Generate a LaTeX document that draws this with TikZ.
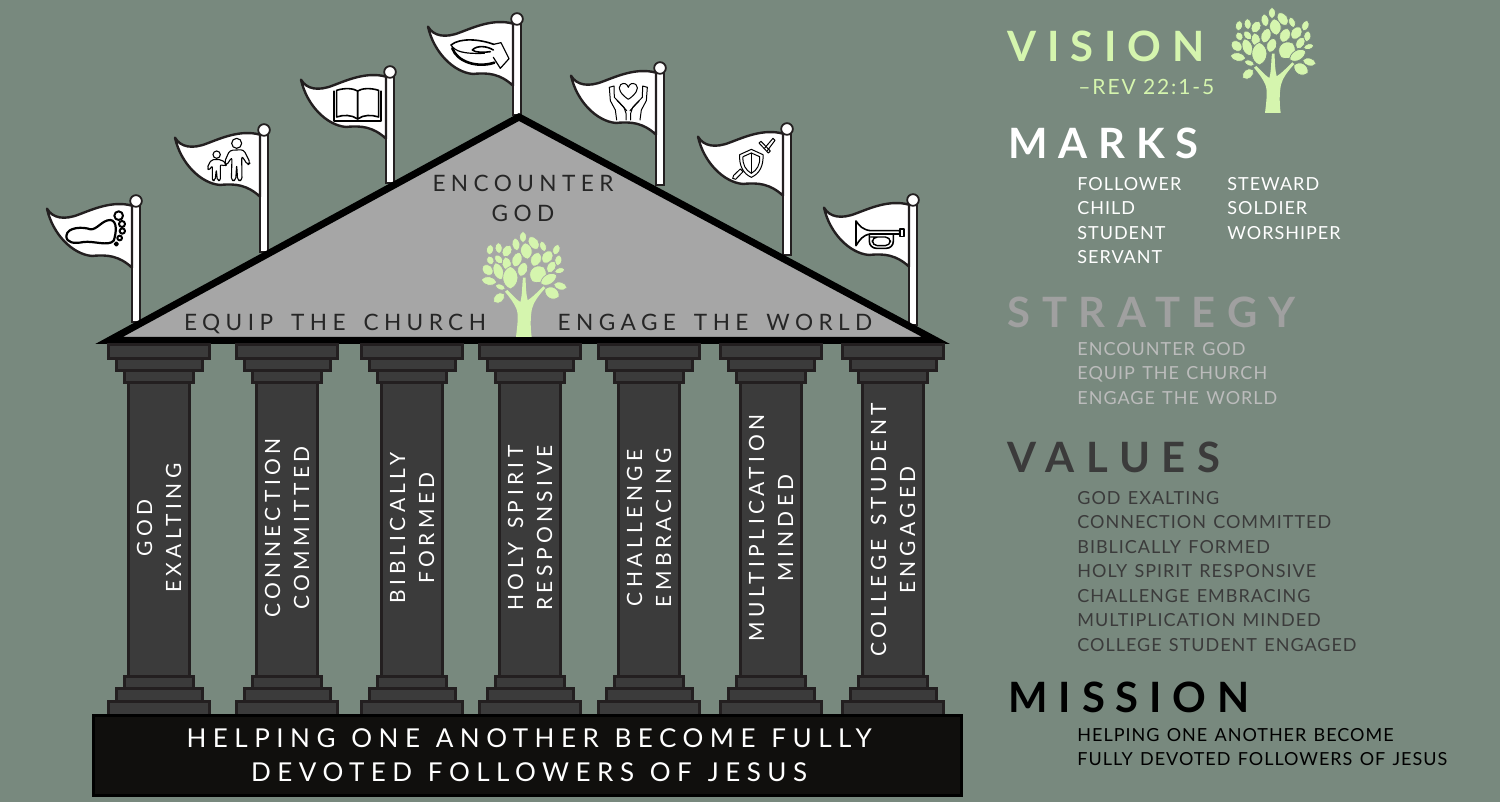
\documentclass[tikz,border=0pt]{standalone}
\usepackage{fontspec}
\setmainfont{Lato}
\newfontfamily\wideletters[LetterSpace=25,WordSpace=1.2]{Lato}
\newfontfamily\roofletters[LetterSpace=24,WordSpace=1.6]{Lato}
\newfontfamily\colletters[LetterSpace=21,WordSpace=1.4]{Lato}
\newfontfamily\headwide[LetterSpace=28]{Lato Bold}
\newfontfamily\headbold[LetterSpace=26]{Lato Bold}
\newfontfamily\listletters[LetterSpace=5.5,WordSpace=1.3]{Lato}
\newfontfamily\revletters[LetterSpace=9]{Lato}
\definecolor{bgsage}{RGB}{120,137,126}
\definecolor{treegreen}{RGB}{213,245,174}
\definecolor{roofgray}{RGB}{166,166,166}
\definecolor{stonedark}{RGB}{35,31,32}
\definecolor{stonefill}{RGB}{59,59,59}
\definecolor{plinthblack}{RGB}{16,15,13}
\definecolor{stratgray}{RGB}{160,160,160}
\definecolor{stratlist}{RGB}{188,188,188}
\tikzset{
    iconline/.style={draw=black, line width=#1, fill=none, line join=round, line cap=round},
    iconline/.default=0.5pt,
    flag/.pic={
        \begin{scope}[scale=1/3]
        \draw[stonedark, fill=white, line width=1.1pt] (-11,0) rectangle (11,#1);
        \draw[stonedark, fill=white, line width=1.2pt, line join=round] (-267,23) .. controls (-250,52) and (-215,58) .. (-170,40) .. controls (-130,25) and (-70,-2) .. (-12,14) -- (-12,200) .. controls (-50,165) and (-85,160) .. (-132,165) .. controls (-190,160) and (-250,100) .. (-267,23) -- cycle;
        \draw[stonedark, fill=white, line width=.9pt] (0,0) circle (17.5);
        \end{scope}
    },
    column/.pic={
        \draw[tierbox] (-34.5,371) rectangle (34.5,383);
        \draw[tierbox] (-43,359) rectangle (43,371);
        \draw[tierbox] (-50.5,345) rectangle (50.5,359);
        \draw[tierbox] (-30.5,383) rectangle (30.5,676);
        \draw[tierbox] (-34.5,676) rectangle (34.5,688);
        \draw[tierbox] (-43,688) rectangle (43,701);
        \draw[tierbox] (-50.5,701) rectangle (50.5,715);
    },
    tree/.pic={
        \begin{scope}[scale=1/3, shift={(-158,-350)}]
        \foreach \lx/\ly/\ll/\lw/\la in {158/50/34/20/90, 137/72/40/22/100, 190/68/44/28/125, 218/78/34/18/110,
            168/92/50/32/100, 110/92/40/26/60, 85/83/34/20/95, 59/88/32/20/80, 258/88/34/20/70,
            197/117/44/30/65, 231/110/42/30/55, 140/118/46/28/70, 109/130/42/26/100, 85/117/32/20/130,
            60/120/28/20/115, 264/120/34/20/80, 157/147/44/28/70, 84/153/54/28/110, 52/149/38/28/135,
            120/172/68/42/90, 203/162/56/46/50, 243/140/40/24/60, 235/177/54/28/30, 268/151/32/16/15,
            56/182/48/24/-10, 270/197/42/22/-15, 245/218/48/32/-30, 90/200/32/16/-20, 86/233/40/26/40}{
            \filldraw[fill=treegreen, draw=#1, line width=.35pt, shift={(\lx,\ly)}, rotate=\la] (-\ll/2,0) .. controls (-\ll/3,\lw*.72) and (\ll/3,\lw*.72) .. (\ll/2,0) .. controls (\ll/3,-\lw*.72) and (-\ll/3,-\lw*.72) .. (-\ll/2,0) -- cycle;
        }
        \fill[treegreen] (137,350) .. controls (142,310) and (145,280) .. (138,265) .. controls (130,245) and (115,228) .. (104,214) -- (111,209) .. controls (125,222) and (140,240) .. (150,245) .. controls (156,225) and (155,195) .. (158,172) -- (166,172) .. controls (166,200) and (168,225) .. (172,240) .. controls (185,232) and (205,212) .. (219,198) -- (225,203) .. controls (205,225) and (190,245) .. (185,265) .. controls (180,290) and (180,320) .. (184,350) -- cycle;
        \end{scope}
    },
    footicon/.pic={
        \begin{scope}[scale=1/3, shift={(-317,-603)}]
        \draw[iconline=1.1pt] (108,708) .. controls (110,680) and (160,680) .. (180,688) .. controls (200,690) and (215,660) .. (240,660) .. controls (262,662) and (258,700) .. (250,722) .. controls (235,740) and (190,722) .. (160,726) .. controls (130,732) and (108,728) .. (108,708) -- cycle;
        \draw[iconline=1pt] (265,647) circle (13);
        \draw[iconline=1pt] (275,672) circle (9);
        \draw[iconline=1pt] (276,693) circle (8);
        \draw[iconline=1pt] (268,714) circle (7);
        \draw[iconline=1pt] (258,732) circle (5);
        \end{scope}
    },
    familyicon/.pic={
        \begin{scope}[scale=1/3, shift={(-703,-391)}]
        \draw[iconline=.55pt] (621,431) circle (15);
        \draw[iconline=.55pt, rounded corners=1.5pt] (584,488) -- (600,452) -- (642,450) -- (662,490) -- (654,496) -- (636,468) -- (637,543) -- (624,543) -- (621,495) -- (618,543) -- (605,543) -- (607,472) -- (590,498) -- cycle;
        \draw[iconline=.55pt] (561,465) circle (11);
        \draw[iconline=.55pt, rounded corners=1pt] (532,505) -- (545,480) -- (575,480) -- (592,494) -- (586,500) -- (572,494) -- (572,543) -- (563,543) -- (560,510) -- (556,543) -- (548,543) -- (548,498) -- (538,512) -- cycle;
        \end{scope}
    },
    bookicon/.pic={
        \begin{scope}[scale=1/3, shift={(-1080,-217)}]
        \draw[iconline=1.1pt] (912,275) -- (912,363) -- (1054,363) -- (1054,275);
        \draw[iconline=.8pt] (920,272) .. controls (945,264) and (970,266) .. (983,274) -- (983,358) .. controls (965,345) and (940,345) .. (920,352) -- cycle;
        \draw[iconline=.8pt] (1046,272) .. controls (1020,264) and (995,266) .. (983,274) -- (983,358) .. controls (1000,345) and (1025,345) .. (1046,352) -- cycle;
        \end{scope}
    },
    bowlicon/.pic={
        \begin{scope}[scale=1/3, shift={(-1460,-57)}]
        \draw[iconline=1.3pt] (1266,145) .. controls (1280,185) and (1340,205) .. (1392,188);
        \draw[iconline=.8pt] (1262,135) .. controls (1290,112) and (1350,118) .. (1390,133);
        \draw[iconline=.6pt] (1262,135) .. controls (1275,155) and (1300,162) .. (1362,160);
        \draw[iconline=.6pt] (1390,133) -- (1412,128) -- (1436,176) -- (1410,205) -- (1389,172);
        \draw[iconline=.8pt] (1389,150) .. controls (1370,138) and (1340,135) .. (1326,150) .. controls (1335,158) and (1360,158) .. (1380,155);
        \end{scope}
    },
    handsicon/.pic={
        \begin{scope}[scale=1/3, shift={(-480,-204)}]
        \draw[iconline] (385,298) .. controls (365,285) and (350,265) .. (362,254) .. controls (372,246) and (382,252) .. (385,262) .. controls (388,252) and (398,246) .. (408,254) .. controls (420,265) and (405,285) .. (385,298) -- cycle;
        \draw[iconline] (328,262) -- (342,258) -- (343,292) -- (372,322) -- (378,340) -- (378,360);
        \draw[iconline] (328,262) -- (331,302) -- (346,330) -- (350,360);
        \draw[iconline] (352,302) -- (380,332);
        \draw[iconline] (442,262) -- (428,258) -- (427,292) -- (398,322) -- (392,340) -- (392,360);
        \draw[iconline] (442,262) -- (439,302) -- (424,330) -- (420,360);
        \draw[iconline] (418,302) -- (390,332);
        \end{scope}
    },
    shieldicon/.pic={
        \begin{scope}[scale=1/3, shift={(-862,-386)}]
        \draw[iconline] (702,525) -- (722,506) -- (730,514) -- (708,537) -- (699,534) -- cycle;
        \draw[iconline] (795,443) -- (820,414) -- (826,420) -- (803,451);
        \draw[iconline] (778,428) -- (784,423) -- (812,452) -- (806,458) -- cycle;
        \draw[iconline, fill=white] (755,447) -- (790,463) .. controls (792,495) and (780,520) .. (755,531) .. controls (730,520) and (718,495) .. (720,463) -- cycle;
        \draw[iconline, fill=white] (755,458) -- (780,469) .. controls (782,492) and (772,510) .. (755,519) .. controls (738,510) and (728,492) .. (730,469) -- cycle;
        \draw[iconline] (755,458) -- (755,519);
        \end{scope}
    },
    trumpeticon/.pic={
        \begin{scope}[scale=1/3, shift={(-1240,-601)}]
        \draw[iconline=.8pt] (1069,664) -- (1069,738) .. controls (1080,720) and (1090,706) .. (1112,703) -- (1200,703) -- (1200,693) -- (1112,693) .. controls (1090,690) and (1080,680) .. (1069,664) -- cycle;
        \draw[iconline=.8pt] (1201,688) rectangle (1213,710);
        \draw[iconline=.8pt, rounded corners=3.5pt] (1109,703) -- (1109,746) -- (1181,746) -- (1181,703);
        \draw[iconline=.7pt, rounded corners=2.5pt] (1128,712) -- (1118,712) -- (1118,738) -- (1172,738) -- (1172,712) -- cycle;
        \end{scope}
    }
}
\begin{document}
\begin{tikzpicture}[x=.5pt, y=-.5pt,
    tierbox/.style={draw=stonedark, fill=stonefill, line width=1.5pt},
    roofshape/.style={draw=black, fill=roofgray, line width=3.5pt, miter limit=20},
    plinth/.style={draw=black, fill=plinthblack, line width=1.5pt},
    roofword/.style={font=\roofletters\fontsize{11.3}{15}\selectfont, text=black!85, inner sep=0pt, align=center},
    colword/.style={rotate=90, font=\colletters\fontsize{10.5}{14.5}\selectfont, text=white, inner sep=0pt, align=center},
    baseword/.style={font=\wideletters\fontsize{13}{17}\selectfont, text=white, inner sep=0pt, align=center},
    headword/.style={anchor=base west, inner sep=0pt, font=\headbold\fontsize{20.9}{24}\selectfont},
    listword/.style={anchor=north west, inner sep=0pt, align=left, font=\listletters\fontsize{9}{12.25}\selectfont}
]
\fill[bgsage] (0,0) rectangle (1500,802);
\useasboundingbox (0,0) rectangle (1500,802);

\pic at (136,201) {flag=363};
\pic at (264,130) {flag=366};
\pic at (390,72) {flag=333};
\pic at (517,19) {flag=288};
\pic at (660,68) {flag=351};
\pic at (787,129) {flag=378};
\pic at (913,200) {flag=375};

\pic at (136,201) {footicon};
\pic at (264,130) {familyicon};
\pic at (390,72) {bookicon};
\pic at (517,19) {bowlicon};
\pic at (660,68) {handsicon};
\pic at (787,129) {shieldicon};
\pic at (913,200) {trumpeticon};

\draw[roofshape] (519,117) -- (936,340.5) -- (109,340.5) -- cycle;
\pic at (523,337) {tree=roofgray};

\node[roofword] (encounter) at (523,198) {ENCOUNTER\\GOD};
\node[roofword, anchor=base] (equip) at (335,330) {EQUIP THE CHURCH};
\node[roofword, anchor=base] (engage) at (715,330) {ENGAGE THE WORLD};

\pic at (159,0) {column};
\pic at (287,0) {column};
\pic at (412,0) {column};
\pic at (530,0) {column};
\pic at (649,0) {column};
\pic at (771,0) {column};
\pic at (893,0) {column};

\node[colword] (god) at (159,528) {GOD\\EXALTING};
\node[colword] (connection) at (287,528) {CONNECTION\\COMMITTED};
\node[colword] (biblically) at (412,528) {BIBLICALLY\\FORMED};
\node[colword] (spirit) at (530,528) {HOLY SPIRIT\\RESPONSIVE};
\node[colword] (challenge) at (649,528) {CHALLENGE\\EMBRACING};
\node[colword] (multiply) at (771,528) {MULTIPLICATION\\MINDED};
\node[colword] (college) at (893,530) {COLLEGE STUDENT\\ENGAGED};

\draw[plinth] (93,715) rectangle (961,795);
\node[baseword] (helping) at (529,755) {HELPING ONE ANOTHER BECOME FULLY\\DEVOTED FOLLOWERS OF JESUS};

\node[headword, text=treegreen] (vision) at (1007,62) {VISION};
\node[anchor=base west, inner sep=0pt, text=treegreen, font=\revletters\fontsize{10.5}{12}\selectfont] (rev) at (1078,95) {\textendash REV 22:1-5};
\pic at (1272,113) {tree=bgsage};

\node[headword, text=white] (marks) at (1008,159) {MARKS};
\node[listword, text=white] (marksa) at (1077,177) {FOLLOWER\\CHILD\\STUDENT\\SERVANT};
\node[listword, text=white] (marksb) at (1227,177) {STEWARD\\SOLDIER\\WORSHIPER};

\node[headword, text=stratgray, font=\headwide\fontsize{20.9}{24}\selectfont] (strategy) at (1007,328) {STRATEGY};
\node[listword, text=stratlist] (stratlines) at (1077,342) {ENCOUNTER GOD\\EQUIP THE CHURCH\\ENGAGE THE WORLD};

\node[headword, text=stonefill, font=\headwide\fontsize{20.9}{24}\selectfont] (values) at (1007,473) {VALUES};
\node[listword, text=stonefill] (valuelines) at (1077,491) {GOD EXALTING\\CONNECTION COMMITTED\\BIBLICALLY FORMED\\HOLY SPIRIT RESPONSIVE\\CHALLENGE EMBRACING\\MULTIPLICATION MINDED\\COLLEGE STUDENT ENGAGED};

\node[headword, text=black] (mission) at (1008,712) {MISSION};
\node[listword, text=black] (missionlines) at (1077,728) {HELPING ONE ANOTHER BECOME\\FULLY DEVOTED FOLLOWERS OF JESUS};
\end{tikzpicture}
\end{document}
